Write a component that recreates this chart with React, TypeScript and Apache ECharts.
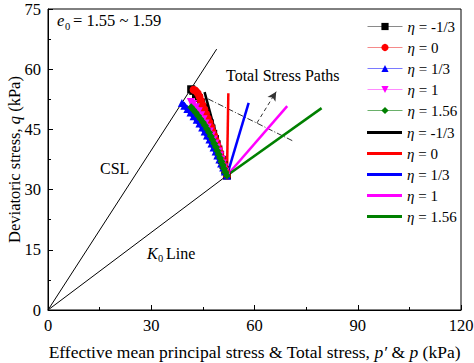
import React, { useEffect, useRef } from "react";
import * as echarts from "echarts";

const etaLabels = ["-1/3", "0", "1/3", "1", "1.56"];
const xTicks = [0, 30, 60, 90, 120];
const yTicks = [0, 15, 30, 45, 60, 75];

const anchor: [number, number] = [52.0, 33.5];
const cslLine: [number, number][] = [[0, 0], [49.0, 65.0]];
const k0Line: [number, number][] = [[0, 0], [52.0, 33.5]];

// total stress path end points (start at anchor)
const totalEnds: [number, number][] = [
  [45.5, 54.3],
  [52.4, 54.0],
  [58.3, 51.6],
  [69.5, 50.8],
  [79.5, 50.3],
];

// effective stress paths (measured)
const espBlack: [number, number][] = [
  [52.0, 33.5], [51.5, 34.8], [51.0, 36.1], [50.5, 37.4], [50.0, 38.7], [49.5, 40.0],
  [49.0, 41.3], [48.5, 42.6], [48.0, 43.9], [47.5, 45.2], [47.0, 46.5], [46.4, 47.8],
  [45.8, 49.1], [45.2, 50.4], [44.5, 51.7], [43.8, 52.8], [43.0, 53.8], [42.2, 54.6], [41.6, 55.0],
];
const espRed: [number, number][] = [
  [52.0, 33.5], [51.6, 34.6], [51.2, 35.7], [50.8, 36.8], [50.4, 37.9], [50.0, 39.0],
  [49.6, 40.1], [49.2, 41.2], [48.7, 42.3], [48.3, 43.4], [47.8, 44.5], [47.4, 45.6],
  [46.9, 46.7], [46.4, 47.8], [45.9, 48.9], [45.4, 50.0], [44.9, 51.1], [44.4, 52.2],
  [44.0, 53.2], [43.5, 54.0], [42.9, 54.6], [42.3, 54.9],
];
const espBlue: [number, number][] = [
  [52.0, 33.5], [51.4, 34.5], [50.9, 35.5], [50.3, 36.5], [49.8, 37.5], [49.2, 38.5],
  [48.7, 39.5], [48.1, 40.5], [47.5, 41.5], [46.9, 42.5], [46.2, 43.5], [45.5, 44.5],
  [44.8, 45.5], [44.0, 46.5], [43.2, 47.4], [42.3, 48.3], [41.4, 49.2], [40.5, 50.1],
  [39.6, 50.9], [38.9, 51.6],
];
const espMagenta: [number, number][] = [
  [52.0, 33.5], [51.6, 34.5], [51.2, 35.5], [50.8, 36.5], [50.4, 37.5], [50.0, 38.5],
  [49.6, 39.5], [49.1, 40.5], [48.6, 41.5], [48.1, 42.5], [47.6, 43.5], [47.0, 44.5],
  [46.4, 45.5], [45.8, 46.5], [45.2, 47.5], [44.5, 48.5], [43.8, 49.5], [43.0, 50.5],
  [42.2, 51.3], [41.5, 51.8],
];
const espGreen: [number, number][] = [
  [52.0, 33.5], [51.6, 34.3], [51.2, 35.2], [50.8, 36.1], [50.4, 37.0], [50.0, 37.9],
  [49.6, 38.8], [49.2, 39.7], [48.8, 40.6], [48.3, 41.5], [47.8, 42.4], [47.3, 43.3],
  [46.8, 44.2], [46.2, 45.1], [45.6, 46.0], [45.0, 46.8], [44.3, 47.6], [43.6, 48.4],
  [42.9, 49.2], [42.2, 49.9], [41.6, 50.5],
];
const espData = [espBlack, espRed, espBlue, espMagenta, espGreen];

const dashDotLine: [number, number][] = [[46.5, 52.6], [71.2, 42.1]];
const arrowFrom: [number, number] = [60.7, 46.6];
const arrowTo: [number, number] = [66.3, 54.4];

const colors = ["#000000", "#ff0000", "#0000ff", "#ff00ff", "#008000"];
const lightColors = ["#8a8a8a", "#f58a8a", "#7a7aff", "#ff8aff", "#6ab06a"];
const symbols = ["rect", "circle", "triangle", "path://M0,0 L10,0 L5,9 Z", "diamond"];

const FONT = "Liberation Serif, Times New Roman, serif";

export default function App() {
  const ref = useRef<HTMLDivElement>(null);
  useEffect(() => {
    if (!ref.current) return;
    const chart = echarts.init(ref.current, undefined, { renderer: "svg" });
    const markerNames = etaLabels.map((e) => "η = " + e);
    const lineNames = etaLabels.map((e) => "η = " + e + " ");

    const series: any[] = [];
    series.push({
      type: "line", name: "CSL", data: cslLine, symbol: "none", silent: true,
      lineStyle: { color: "#000", width: 1 }, z: 1,
    });
    series.push({
      type: "line", name: "K0", data: k0Line, symbol: "none", silent: true,
      lineStyle: { color: "#000", width: 1 }, z: 1,
    });
    series.push({
      type: "line", name: "dashdot", data: dashDotLine, symbol: "none", silent: true,
      lineStyle: { color: "#333", width: 1, type: [6, 2, 1, 2] }, z: 1,
      markLine: {
        silent: true, symbol: ["none", "arrow"], symbolSize: [7, 9],
        label: { show: false },
        lineStyle: { color: "#333", width: 1, type: [4, 3] },
        data: [[{ coord: arrowFrom }, { coord: arrowTo }]],
      },
    });
    totalEnds.forEach((end, i) => {
      series.push({
        type: "line", name: lineNames[i], data: [anchor, end], symbol: "none",
        lineStyle: { color: colors[i], width: 2.5 }, itemStyle: { color: colors[i] }, z: 2,
      });
    });
    espData.forEach((d, i) => {
      series.push({
        type: "line", name: markerNames[i], data: d, symbol: symbols[i], symbolSize: 8,
        showAllSymbol: true,
        itemStyle: { color: colors[i] },
        lineStyle: { color: colors[i], width: 5 }, z: 3,
      });
    });

    const txt = (text: string, x: number, y: number, size = 16, italic = false) => ({
      type: "text", x, y, silent: true,
      style: {
        text, fill: "#000", fontSize: size, fontFamily: FONT,
        fontStyle: italic ? "italic" : "normal", verticalAlign: "middle", align: "left",
      },
    });

    const legendText = {
      fontFamily: FONT, fontSize: 15, color: "#000",
      rich: { i: { fontFamily: FONT, fontSize: 15, fontStyle: "italic", color: "#000" } },
    };
    const legendFmt = (name: string) => "{i|η}" + name.trim().slice(1);

    chart.setOption({
      animation: false,
      backgroundColor: "#fff",
      grid: {
        left: 48, right: 13, top: 9, bottom: 53, show: true, borderColor: "#000", borderWidth: 1,
        outerBoundsMode: "none", containLabel: false,
      },
      legend: [
        {
          orient: "vertical", left: 362, top: 14, itemWidth: 35, itemHeight: 9, itemGap: 6,
          data: markerNames.map((n, i) => ({ name: n, lineStyle: { width: 1, color: lightColors[i] } })),
          formatter: legendFmt, textStyle: legendText, selectedMode: false,
        },
        {
          orient: "vertical", left: 362, top: 120, itemWidth: 35, itemHeight: 3, itemGap: 6,
          data: lineNames.map((n) => ({ name: n, icon: "path://M0,0 H35 V3 H0 Z" })),
          formatter: legendFmt, textStyle: legendText, selectedMode: false,
        },
      ],
      xAxis: {
        type: "value", min: xTicks[0], max: xTicks[xTicks.length - 1], interval: 30,
        name: "Effective mean principal stress & Total stress, {i|p′} & {i|p} (kPa)",
        nameLocation: "middle", nameGap: 33, nameMoveOverlap: false,
        nameTextStyle: {
          fontFamily: FONT, fontSize: 17.5, color: "#000",
          rich: { i: { fontFamily: FONT, fontSize: 17.5, fontStyle: "italic", color: "#000" } },
        },
        axisLine: { lineStyle: { color: "#000" } },
        axisTick: { inside: true, length: 5, lineStyle: { color: "#000" } },
        minorTick: { show: true, splitNumber: 2, length: 3, lineStyle: { color: "#000" } },
        axisLabel: { color: "#000", fontFamily: FONT, fontSize: 16.5, margin: 7 },
        splitLine: { show: false },
      },
      yAxis: {
        type: "value", min: yTicks[0], max: yTicks[yTicks.length - 1], interval: 15,
        name: "Deviatoric stress, {i|q} (kPa)",
        nameLocation: "middle", nameGap: 25, nameMoveOverlap: false,
        nameTextStyle: {
          fontFamily: FONT, fontSize: 16.5, color: "#000",
          rich: { i: { fontFamily: FONT, fontSize: 16.5, fontStyle: "italic", color: "#000" } },
        },
        axisLine: { lineStyle: { color: "#000" } },
        axisTick: { inside: true, length: 5, lineStyle: { color: "#000" } },
        minorTick: { show: true, splitNumber: 2, length: 3, lineStyle: { color: "#000" } },
        axisLabel: { color: "#000", fontFamily: FONT, fontSize: 16.5, margin: 7 },
        splitLine: { show: false },
      },
      graphic: [
        txt("e", 57, 20, 16.5, true),
        txt("0", 65, 26, 10.5),
        txt("= 1.55 ~ 1.59", 73, 20, 16.5),
        txt("CSL", 100, 168),
        txt("K", 147, 253, 16, true),
        txt("0", 158, 258, 10.5),
        txt("Line", 166, 253),
        txt("Total Stress Paths", 226, 75),
      ],
      series,
    });
    return () => chart.dispose();
  }, []);
  return (
    <div
      ref={ref}
      style={{ position: "fixed", left: 0, top: 0, width: 474, height: 363, background: "#fff" }}
    />
  );
}
